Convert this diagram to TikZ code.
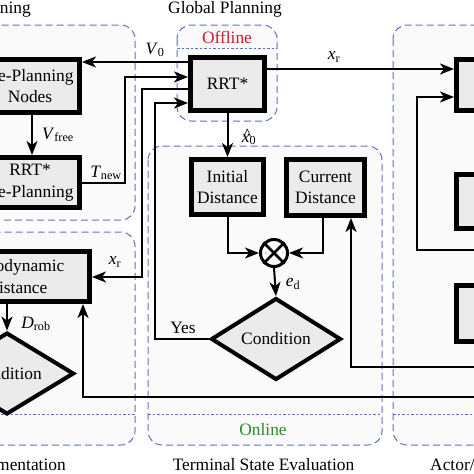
\documentclass[tikz,border=0pt]{standalone}
\usepackage{fontspec}
\setmainfont{Liberation Serif}
\usetikzlibrary{shapes.geometric,arrows.meta,calc}
\definecolor{grpblue}{RGB}{95,115,195}
\definecolor{offred}{RGB}{200,30,45}
\definecolor{ongreen}{RGB}{40,140,40}
\newcommand{\vi}[1]{\textit{#1}}
\newcommand{\xhat}{\textit{\rlap{\kern0.06em\raisebox{0.08em}{\textasciicircum}}x}}
\begin{document}
\begin{tikzpicture}[x=1pt,y=-1pt,
  font=\fontsize{17.4}{21.5}\selectfont,
  blk/.style={draw,line width=5pt,fill=black!8,align=center,inner sep=0pt},
  dia/.style={draw,line width=4pt,fill=black!8,diamond,inner sep=0pt},
  arr/.style={line width=2pt,-{Stealth[length=14pt,width=11pt,inset=4pt]}},
  con/.style={line width=2pt},
  grp/.style={draw=grpblue,line width=1pt,dash pattern=on 7pt off 4pt,rounded corners=14pt,fill=black!2},
  sep/.style={draw=grpblue,line width=1pt,dash pattern=on 2.5pt off 2pt},
  lbl/.style={inner sep=0pt},
]
\useasboundingbox (0,0) rectangle (474,474);
\clip (0,0) rectangle (474,474);
\fill[white] (0,0) rectangle (474,474);

% groups
\draw[grp] (-30,25) rectangle (135,220);
\draw[grp] (-30,232) rectangle (135,445);
\draw[grp] (177,25) rectangle (277,121);
\draw[grp] (148,146) rectangle (382,445);
\draw[grp] (393,25) rectangle (620,445);
\draw[sep] (177,48) -- (277,48);
\draw[sep] (-30,414) -- (135,414);
\draw[sep] (148,414) -- (382,414);
\draw[sep] (393,414) -- (620,414);

% titles
\node[lbl,anchor=base east] (tRe) at (31,13) {Re-Planning};
\node[lbl,anchor=base] (tGlob) at (225,13) {Global Planning};
\node[lbl,anchor=base east] (tAug) at (66,470) {Augmentation};
\node[lbl,anchor=base] (tTerm) at (263.5,470) {Terminal State Evaluation};
\node[lbl,anchor=base west] (tAct) at (430,470) {Actor/Critic};
\node[lbl,text=offred] (tOff) at (227,37) {Offline};
\node[lbl,text=ongreen] (tOn) at (263,430) {Online};

% blocks
\node[blk,minimum width=74pt,minimum height=53pt] (rrt) at (227.5,84) {RRT*};
\node[blk,minimum width=99pt,minimum height=53pt] (repnodes) at (30,86) {Re-Planning\\Nodes};
\node[blk,minimum width=99pt,minimum height=50pt] (rrtrep) at (30,182.5) {RRT*\\Re-Planning};
\node[blk,minimum width=72pt,minimum height=55pt] (init) at (227.5,187) {Initial\\Distance};
\node[blk,minimum width=78pt,minimum height=56pt] (curr) at (325.5,187.5) {Current\\Distance};
\node[blk,minimum width=145pt,minimum height=50pt] (kino) at (17,276.5) {Kinodynamic\\Distance};
\node[blk,minimum width=100pt,minimum height=51pt] (blkA) at (506.5,85) {};
\node[blk,minimum width=100pt,minimum height=54pt] (blkB) at (506.5,201.5) {};
\node[blk,minimum width=100pt,minimum height=56pt] (blkC) at (506.5,313.5) {};
\node[dia,minimum width=130pt,minimum height=61pt] (cond) at (276,339) {Condition};
\node[dia,minimum width=134pt,minimum height=62pt] (lcond) at (7,373.5) {Condition};
\node[draw,circle,line width=3pt,fill=white,minimum size=27pt,inner sep=0pt] (sum) at (274,253) {};
\draw[line width=2.5pt] (sum.north west) -- (sum.south east);
\draw[line width=2.5pt] (sum.north east) -- (sum.south west);
\node[lbl,font=\fontsize{6}{6}\selectfont,text=black!60] (plus) at (266,254) {+};
\node[lbl,font=\fontsize{6}{6}\selectfont,text=black!60] (minus) at (283,254) {-};

% off-page ends
\coordinate (r1) at (500,250);
\coordinate (r2) at (500,367);
\coordinate (r3) at (500,397);

% connectors
\draw[arr] (rrt.west |- 0,62) -- (repnodes.east |- 0,62);
\node[lbl] (lV0) at (155,50) {\vi{V}\textsubscript{0}};
\draw[arr] (repnodes.south -| 32,0) -- (rrtrep.north -| 32,0);
\node[lbl] (lVf) at (58,135) {\vi{V}\textsubscript{free}};
\draw[arr] (rrtrep.east |- 0,183) -- (125,183) -- (125,77) -- (rrt.west |- 0,77);
\node[lbl] (lTn) at (106,173) {\vi{T}\textsubscript{new}};
\draw[arr] (rrt.west |- 0,89) -- (142,89) -- (142,277) -- (kino.east |- 0,277);
\node[lbl] (lxr2) at (115,262) {\vi{x}\textsubscript{r}};
\draw[arr] (cond.west) -- (155,339) -- (155,103) -- (rrt.west |- 0,103);
\node[lbl] (lYes) at (183,328) {Yes};
\draw[arr] (rrt.south) -- (init.north);
\node[lbl] (lx0) at (249,137) {\xhat\textsubscript{0}};
\draw[arr] (init.south) |- (sum.west);
\draw[arr] (curr.south -| 323,0) |- (sum.east);
\draw[arr] (sum.south) -- (cond.north);
\node[lbl] (led) at (293,284) {\vi{e}\textsubscript{d}};
\draw[arr] (rrt.east |- 0,69) -- (blkA.west |- 0,69);
\node[lbl] (lxr) at (334,57) {\vi{x}\textsubscript{r}};
\draw[arr] (r1) -- (417,250) -- (417,97) -- (blkA.west |- 0,97);
\draw[arr] (r2) -- (351,367) -- (curr.south -| 351,0);
\draw[arr] (r3) -- (83,397) -- (kino.south -| 83,0);
\draw[arr] (kino.south -| 7,0) -- (lcond.north);
\node[lbl] (lDr) at (36,324) {\vi{D}\textsubscript{rob}};
\end{tikzpicture}
\end{document}
